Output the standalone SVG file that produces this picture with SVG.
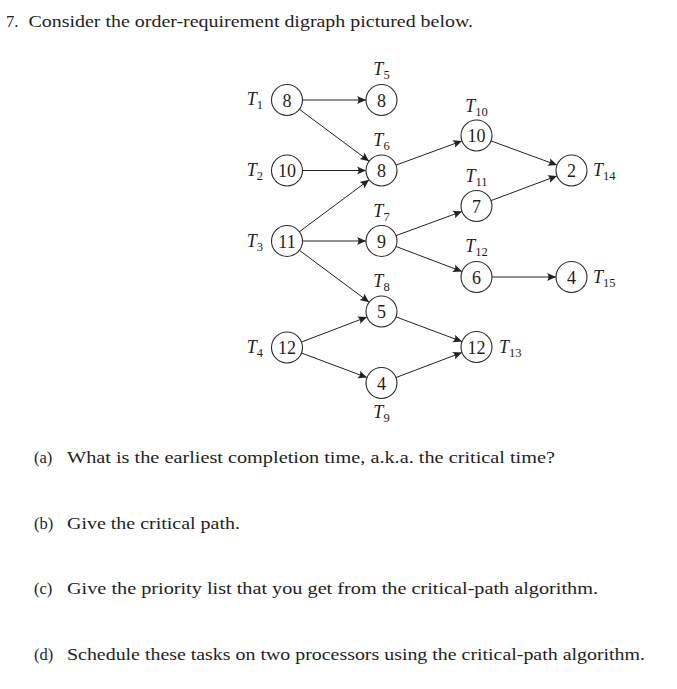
<svg xmlns="http://www.w3.org/2000/svg" width="677" height="689" viewBox="0 0 677 689">
<style>
text{font-family:"Liberation Serif","DejaVu Serif",serif;fill:#1e1e1e}
.body{font-size:16.5px}
.num{font-size:18px;text-anchor:middle}
.lab{font-size:18px;font-style:italic}
.sub{font-size:12.5px;font-style:normal}
.node circle{fill:#fff;stroke:#2a2a2a;stroke-width:1.1}
#edges line{stroke:#222;stroke-width:1;marker-end:url(#arr)}
</style>
<defs>
<marker id="arr" markerUnits="userSpaceOnUse" viewBox="-10 -5 11 10" refX="0" refY="0" markerWidth="11" markerHeight="10" orient="auto">
<path d="M0,0 L-9,-4 Q-6,0 -9,4 Z" fill="#222"/>
</marker>
</defs>
<rect width="677" height="689" fill="#fff"/>
<text class="body" x="6" y="27">7.</text>
<text class="body" x="28.5" y="27" textLength="444.5" lengthAdjust="spacingAndGlyphs">Consider the order-requirement digraph pictured below.</text>

<g id="edges">
<line x1="302.5" y1="100" x2="366" y2="100"/>
<line x1="299.4" y1="109.3" x2="369.1" y2="161.2"/>
<line x1="302.5" y1="170.5" x2="366" y2="170.5"/>
<line x1="299.4" y1="231.7" x2="369.1" y2="179.8"/>
<line x1="302.5" y1="241" x2="366" y2="241"/>
<line x1="299.4" y1="250.3" x2="369.1" y2="302.2"/>
<line x1="301.5" y1="342" x2="367" y2="317"/>
<line x1="301.5" y1="353" x2="367" y2="377.6"/>
<line x1="396" y1="165.1" x2="462" y2="140.9"/>
<line x1="396" y1="235.6" x2="462" y2="211.4"/>
<line x1="396" y1="246.5" x2="462" y2="271.5"/>
<line x1="491" y1="140.9" x2="557" y2="165.1"/>
<line x1="491" y1="200.6" x2="557" y2="175.9"/>
<line x1="492" y1="277" x2="556" y2="277"/>
<line x1="396" y1="316.9" x2="462" y2="341.6"/>
<line x1="396" y1="377.5" x2="462" y2="352.5"/>
</g>

<g id="T1" class="node"><circle cx="287" cy="100" r="15.5"/><text class="num" x="287" y="106.5">8</text><text class="lab" x="263" y="105" text-anchor="end">T<tspan class="sub" dy="4">1</tspan></text></g>
<g id="T2" class="node"><circle cx="287" cy="170.5" r="15.5"/><text class="num" x="287" y="177">10</text><text class="lab" x="263" y="176" text-anchor="end">T<tspan class="sub" dy="4">2</tspan></text></g>
<g id="T3" class="node"><circle cx="287" cy="241" r="15.5"/><text class="num" x="287" y="247.5">11</text><text class="lab" x="263" y="246.5" text-anchor="end">T<tspan class="sub" dy="4">3</tspan></text></g>
<g id="T4" class="node"><circle cx="287" cy="347.5" r="15.5"/><text class="num" x="287" y="354">12</text><text class="lab" x="263" y="353" text-anchor="end">T<tspan class="sub" dy="4">4</tspan></text></g>
<g id="T5" class="node"><circle cx="381.5" cy="100" r="15.5"/><text class="num" x="381.5" y="106.5">8</text><text class="lab" x="381.5" y="75" text-anchor="middle">T<tspan class="sub" dy="4">5</tspan></text></g>
<g id="T6" class="node"><circle cx="381.5" cy="170.5" r="15.5"/><text class="num" x="381.5" y="177">8</text><text class="lab" x="381.5" y="146" text-anchor="middle">T<tspan class="sub" dy="4">6</tspan></text></g>
<g id="T7" class="node"><circle cx="381.5" cy="241" r="15.5"/><text class="num" x="381.5" y="247.5">9</text><text class="lab" x="381.5" y="216.5" text-anchor="middle">T<tspan class="sub" dy="4">7</tspan></text></g>
<g id="T8" class="node"><circle cx="381.5" cy="311.5" r="15.5"/><text class="num" x="381.5" y="318">5</text><text class="lab" x="381.5" y="287" text-anchor="middle">T<tspan class="sub" dy="4">8</tspan></text></g>
<g id="T9" class="node"><circle cx="381.5" cy="383" r="15.5"/><text class="num" x="381.5" y="389.5">4</text><text class="lab" x="381.5" y="418" text-anchor="middle">T<tspan class="sub" dy="4">9</tspan></text></g>
<g id="T10" class="node"><circle cx="476.5" cy="135.5" r="15.5"/><text class="num" x="476.5" y="142">10</text><text class="lab" x="476.5" y="111.5" text-anchor="middle">T<tspan class="sub" dy="4">10</tspan></text></g>
<g id="T11" class="node"><circle cx="476.5" cy="206" r="15.5"/><text class="num" x="476.5" y="212.5">7</text><text class="lab" x="476.5" y="182" text-anchor="middle">T<tspan class="sub" dy="4">11</tspan></text></g>
<g id="T12" class="node"><circle cx="476.5" cy="277" r="15.5"/><text class="num" x="476.5" y="283.5">6</text><text class="lab" x="476.5" y="252" text-anchor="middle">T<tspan class="sub" dy="4">12</tspan></text></g>
<g id="T13" class="node"><circle cx="476.5" cy="347" r="15.5"/><text class="num" x="476.5" y="353.5">12</text><text class="lab" x="499" y="352.5">T<tspan class="sub" dy="4">13</tspan></text></g>
<g id="T14" class="node"><circle cx="571.5" cy="170.5" r="15.5"/><text class="num" x="571.5" y="177">2</text><text class="lab" x="593" y="176">T<tspan class="sub" dy="4">14</tspan></text></g>
<g id="T15" class="node"><circle cx="571.5" cy="277" r="15.5"/><text class="num" x="571.5" y="283.5">4</text><text class="lab" x="593" y="282.5">T<tspan class="sub" dy="4">15</tspan></text></g>

<text class="body" x="34" y="463">(a)</text>
<text class="body" x="67" y="463" textLength="488" lengthAdjust="spacingAndGlyphs">What is the earliest completion time, a.k.a. the critical time?</text>
<text class="body" x="34" y="529">(b)</text>
<text class="body" x="67" y="529" textLength="173" lengthAdjust="spacingAndGlyphs">Give the critical path.</text>
<text class="body" x="34" y="594">(c)</text>
<text class="body" x="67" y="594" textLength="531" lengthAdjust="spacingAndGlyphs">Give the priority list that you get from the critical-path algorithm.</text>
<text class="body" x="34" y="660">(d)</text>
<text class="body" x="67" y="660" textLength="578" lengthAdjust="spacingAndGlyphs">Schedule these tasks on two processors using the critical-path algorithm.</text>
</svg>
